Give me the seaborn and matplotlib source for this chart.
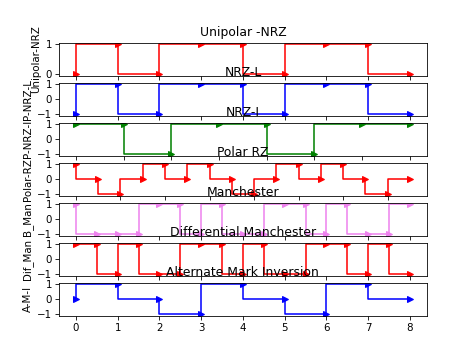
import matplotlib
matplotlib.use("Agg")
import matplotlib.pyplot as plt
import seaborn as sns

# time points (full bit and half bit)
t_bits = [0, 1, 2, 3, 4, 5, 6, 7, 8]
t_nrzi = [0, 1, 2, 3, 4, 5, 6, 7]
t_rz = [0, 0.5, 1, 1.5, 2, 2.5, 3, 3.5, 4, 4.5, 5, 5.5, 6, 6.5, 7, 7.5]
t_half = [0, 0.5, 1, 1.5, 2, 2.5, 3, 3.5, 4, 4.5, 5, 5.5, 6, 6.5, 7, 7.5, 8]

# signal levels
unipolar = [0, 1, 0, 1, 1, 0, 1, 1, 0]
nrz_l = [-1, 1, -1, 1, 1, -1, 1, 1, -1]
nrz_i = [1, 1, -1, 1, 1, -1, 1, 1]
polar_rz = [1, 0, -1, 0, 1, 0, 1, 0, -1, 0, 1, 0, 1, 0, -1, 0]
manchester = [1, -1, -1, -1, 1, 1, -1, 1, -1, -1, 1, 1, -1, 1, -1, -1, 1]
diff_man = [1, 1, -1, 1, -1, -1, 1, 1, -1, 1, -1, -1, 1, 1, -1, 1, -1]
ami = [0, 1, 0, -1, 1, 0, -1, 1, 0]

panels = [
    (t_bits, unipolar, "r", "Unipolar -NRZ", "Unipolar-NRZ", [0, 1]),
    (t_bits, nrz_l, "b", "NRZ-L", "P-NRZ-L", [-1, 0, 1]),
    (t_nrzi, nrz_i, "g", "NRZ-I", "P-NRZ-I", [-1, 0, 1]),
    (t_rz, polar_rz, "r", "Polar RZ", "Polar-RZ", [-1, 0, 1]),
    (t_half, manchester, "violet", "Manchester", "B_Man", [-1, 0, 1]),
    (t_half, diff_man, "r", "Differential Manchester", "Dif_Man", [-1, 0, 1]),
    (t_bits, ami, "b", "Alternate Mark Inversion", "A-M-I", [-1, 0, 1]),
]

fig, axes = plt.subplots(7, 1, figsize=(474 / 74, 355 / 74), dpi=74)

for ax, (t, sig, color, title, ylab, yt) in zip(axes, panels):
    sns.lineplot(x=t, y=sig, ax=ax, color=color, drawstyle="steps-pre",
                 marker=">", markeredgecolor=color, markeredgewidth=1,
                 linewidth=1.5, estimator=None)
    ax.set_title(title)
    ax.set_ylabel(ylab)
    ax.set_yticks(yt)
    ax.tick_params(labelbottom=False)

axes[-1].tick_params(labelbottom=True)

plt.savefig("out.png", dpi=74)
